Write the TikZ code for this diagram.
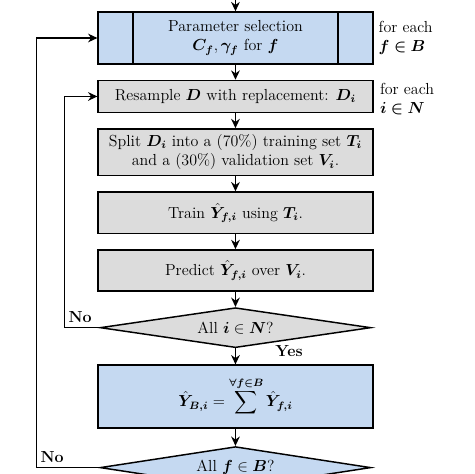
\documentclass[tikz,border=0pt]{standalone}
\usepackage{amsmath}
\usepackage{bm}
\usetikzlibrary{positioning,arrows.meta,shapes.geometric}

\definecolor{boxblue}{RGB}{197,217,241}
\definecolor{boxgray}{RGB}{220,220,220}

\begin{document}
\begin{tikzpicture}[->,>={Stealth[length=7pt,width=6.5pt]},line width=1.1pt,
  node distance=11.25pt,font=\fontsize{12}{14.5}\selectfont,
  procbox/.style={draw,fill=boxgray,minimum width=206pt,align=center,inner sep=2pt},
  subproc/.style={procbox,path picture={
    \draw[-] ([xshift=26pt]path picture bounding box.north west) -- ([xshift=26pt]path picture bounding box.south west);
    \draw[-] ([xshift=-26pt]path picture bounding box.north east) -- ([xshift=-26pt]path picture bounding box.south east);}},
  decision/.style={draw,diamond,fill=boxgray,aspect=6.8,inner sep=0pt,minimum width=203pt,minimum height=30pt},
  sidenote/.style={align=left},
  nolabel/.style={font=\fontsize{12}{14.5}\selectfont\bfseries}]

\useasboundingbox (0,0) rectangle (355.5pt,-355.5pt);
\coordinate (start) at (176.6pt,0);

% main column
\node[subproc,fill=boxblue,minimum height=39pt] (param) at (176.6pt,-28.5pt)
  {Parameter selection\\ $\bm{C_f},\bm{\gamma_f}$ for $\bm{f}$};
\node[procbox,minimum height=24pt,below=of param] (resample)
  {Resample $\bm{D}$ with replacement: $\bm{D_i}$};
\node[procbox,minimum height=35pt,below=of resample] (split)
  {Split $\bm{D_i}$ into a (70\%) training set $\bm{T_i}$\\ and a (30\%) validation set $\bm{V_i}$.};
\node[procbox,minimum height=31pt,below=of split] (train)
  {Train $\hat{\bm{Y}}_{\bm{f,i}}$ using $\bm{T_i}$.};
\node[procbox,minimum height=31pt,below=of train] (predict)
  {Predict $\hat{\bm{Y}}_{\bm{f,i}}$ over $\bm{V_i}$.};
\node[decision,below=of predict] (alli) {All $\bm{i}\in\bm{N}$?};
\node[procbox,fill=boxblue,minimum height=47pt,below=12pt of alli] (sum)
  {$\displaystyle \hat{\bm{Y}}_{\bm{B,i}} = \sum^{\bm{\forall f\in B}} \hat{\bm{Y}}_{\bm{f,i}}$};
\node[decision,fill=boxblue,minimum height=31.5pt,below=13pt of sum] (allf) {All $\bm{f}\in\bm{B}$?};

% loop notes
\node[sidenote,right=0pt of param] (eachf) {for each\\ $\bm{f\in B}$};
\node[sidenote,right=1pt of resample,yshift=-2pt] (eachi) {for each\\ $\bm{i\in N}$};

% connectors
\draw (start) -- (param);
\draw (param) -- (resample);
\draw (resample) -- (split);
\draw (split) -- (train);
\draw (train) -- (predict);
\draw (predict) -- (alli);
\draw (alli) -- node[nolabel,right,xshift=26pt,yshift=3.75pt]{Yes} (sum);
\draw (sum) -- (allf);
\draw (alli.west) -- node[nolabel,above,pos=0.55]{No} ++(-26.25pt,0) |- (resample.west);
\draw (allf.west) -- node[nolabel,above,pos=0.75]{No} ++(-47.25pt,0) |- (param.west);
\end{tikzpicture}
\end{document}
